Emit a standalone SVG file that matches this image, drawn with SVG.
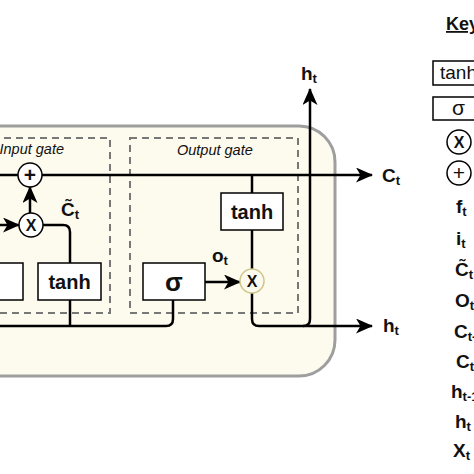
<svg xmlns="http://www.w3.org/2000/svg" width="474" height="474" viewBox="0 0 474 474">
<defs>
<marker id="arr" markerWidth="17" markerHeight="15" refX="16" refY="7.5" orient="auto" markerUnits="userSpaceOnUse">
<path d="M0,0 L17,7.5 L0,15 L4.5,7.5 z" fill="#000"/>
</marker>
<style>
.ln{fill:none;stroke:#000;stroke-width:2.5}
.box{fill:#fff;stroke:#000;stroke-width:1.5}
.dash{fill:none;stroke:#777;stroke-width:2;stroke-dasharray:7,5}
.circ{fill:#fff;stroke:#000;stroke-width:1.5}
.t{font-family:"Liberation Sans","DejaVu Sans",Arial,sans-serif;fill:#111}
.b{font-weight:bold}
.gl{font-family:"Liberation Sans",Arial,sans-serif;font-style:italic;font-size:14.5px;fill:#111}
.lbl{font-family:"Liberation Sans","DejaVu Sans",Arial,sans-serif;font-weight:bold;font-size:19px;fill:#111}
.sub{font-size:13px}
</style>
</defs>
<rect width="474" height="474" fill="#fff"/>
<g id="cell">
<rect x="-40" y="126" width="375" height="250" rx="36" ry="36" fill="#fdfaee" stroke="#9e9e9e" stroke-width="3"/>
</g>
<g id="input-gate">
<rect class="dash" x="-20" y="138" width="130" height="175"/>
<text class="gl" x="64" y="154" text-anchor="end">Input gate</text>
</g>
<g id="output-gate">
<rect class="dash" x="130" y="138" width="168" height="175"/>
<text class="gl" x="177" y="155">Output gate</text>
</g>
<g id="connectors">
<line class="ln" x1="0" y1="175" x2="372" y2="175" marker-end="url(#arr)"/>
<line class="ln" x1="0" y1="225" x2="19" y2="225" marker-end="url(#arr)"/>
<line class="ln" x1="30" y1="213" x2="30" y2="187" marker-end="url(#arr)"/>
<path class="ln" d="M43,225 H63 Q70,225 70,232 V263"/>
<path class="ln" d="M70,300 V326"/>
<path class="ln" d="M0,326 H166 Q173,326 173,319 V300"/>
<line class="ln" x1="205" y1="282" x2="240" y2="282" marker-end="url(#arr)"/>
<line class="ln" x1="252" y1="175" x2="252" y2="193"/>
<line class="ln" x1="252" y1="230" x2="252" y2="269"/>
<path class="ln" d="M252,293 V319 Q252,326 259,326 H372" marker-end="url(#arr)"/>
<path class="ln" d="M303,326 Q310,326 310,319 V89" marker-end="url(#arr)"/>
</g>
<g id="left-box">
<rect class="box" x="-20" y="263" width="43" height="37"/>
</g>
<g id="plus">
<circle class="circ" cx="30" cy="175" r="12"/>
<text class="t b" x="30" y="182" font-size="21" text-anchor="middle">+</text>
</g>
<g id="mult-in">
<circle class="circ" cx="31" cy="225" r="12"/>
<text class="t b" x="31" y="231" font-size="16" text-anchor="middle">X</text>
</g>
<g id="tanh-in">
<rect class="box" x="38" y="263" width="63" height="37"/>
<text class="t b" x="69.5" y="289" font-size="20" text-anchor="middle">tanh</text>
</g>
<g id="sigma-out">
<rect class="box" x="143" y="263" width="62" height="37"/>
<text class="t b" x="174" y="291" font-size="26" text-anchor="middle">σ</text>
</g>
<g id="tanh-out">
<rect class="box" x="221" y="193" width="62" height="37"/>
<text class="t b" x="252" y="219" font-size="20" text-anchor="middle">tanh</text>
</g>
<g id="mult-out">
<circle cx="252" cy="281" r="12" fill="#fdfaee" stroke="#cfc68a" stroke-width="1.5"/>
<text class="t b" x="252" y="287" font-size="16" text-anchor="middle">X</text>
</g>
<g id="labels">
<text class="lbl" x="61" y="216">C̃<tspan class="sub" dy="3">t</tspan></text>
<text class="lbl" x="212" y="262">o<tspan class="sub" dy="3">t</tspan></text>
<text class="lbl" x="301" y="80">h<tspan class="sub" dy="3">t</tspan></text>
<text class="lbl" x="382" y="182">C<tspan class="sub" dy="3">t</tspan></text>
<text class="lbl" x="383" y="332">h<tspan class="sub" dy="3">t</tspan></text>
</g>
<g id="key">
<text class="t b" x="446" y="30" font-size="18" text-decoration="underline">Key</text>
<rect class="box" x="433" y="61" width="60" height="24"/>
<text class="t" x="440" y="79" font-size="19">tanh</text>
<rect class="box" x="433" y="97" width="60" height="23"/>
<text class="t" x="452" y="115" font-size="21">σ</text>
<circle class="circ" cx="459" cy="142" r="12"/>
<text class="t b" x="459" y="148" font-size="16" text-anchor="middle">X</text>
<circle class="circ" cx="459" cy="173" r="12"/>
<text class="t" x="459" y="180" font-size="21" text-anchor="middle">+</text>
<text class="lbl" x="456" y="213">f<tspan class="sub" dy="3">t</tspan></text>
<text class="lbl" x="456" y="245">i<tspan class="sub" dy="3">t</tspan></text>
<text class="lbl" x="455" y="276">C̃<tspan class="sub" dy="3">t</tspan></text>
<text class="lbl" x="455" y="307">O<tspan class="sub" dy="3">t</tspan></text>
<text class="lbl" x="454" y="338">C<tspan class="sub" dy="3">t-1</tspan></text>
<text class="lbl" x="456" y="368">C<tspan class="sub" dy="3">t</tspan></text>
<text class="lbl" x="451" y="398">h<tspan class="sub" dy="3">t-1</tspan></text>
<text class="lbl" x="455" y="428">h<tspan class="sub" dy="3">t</tspan></text>
<text class="lbl" x="453" y="457">X<tspan class="sub" dy="3">t</tspan></text>
</g>
</svg>
